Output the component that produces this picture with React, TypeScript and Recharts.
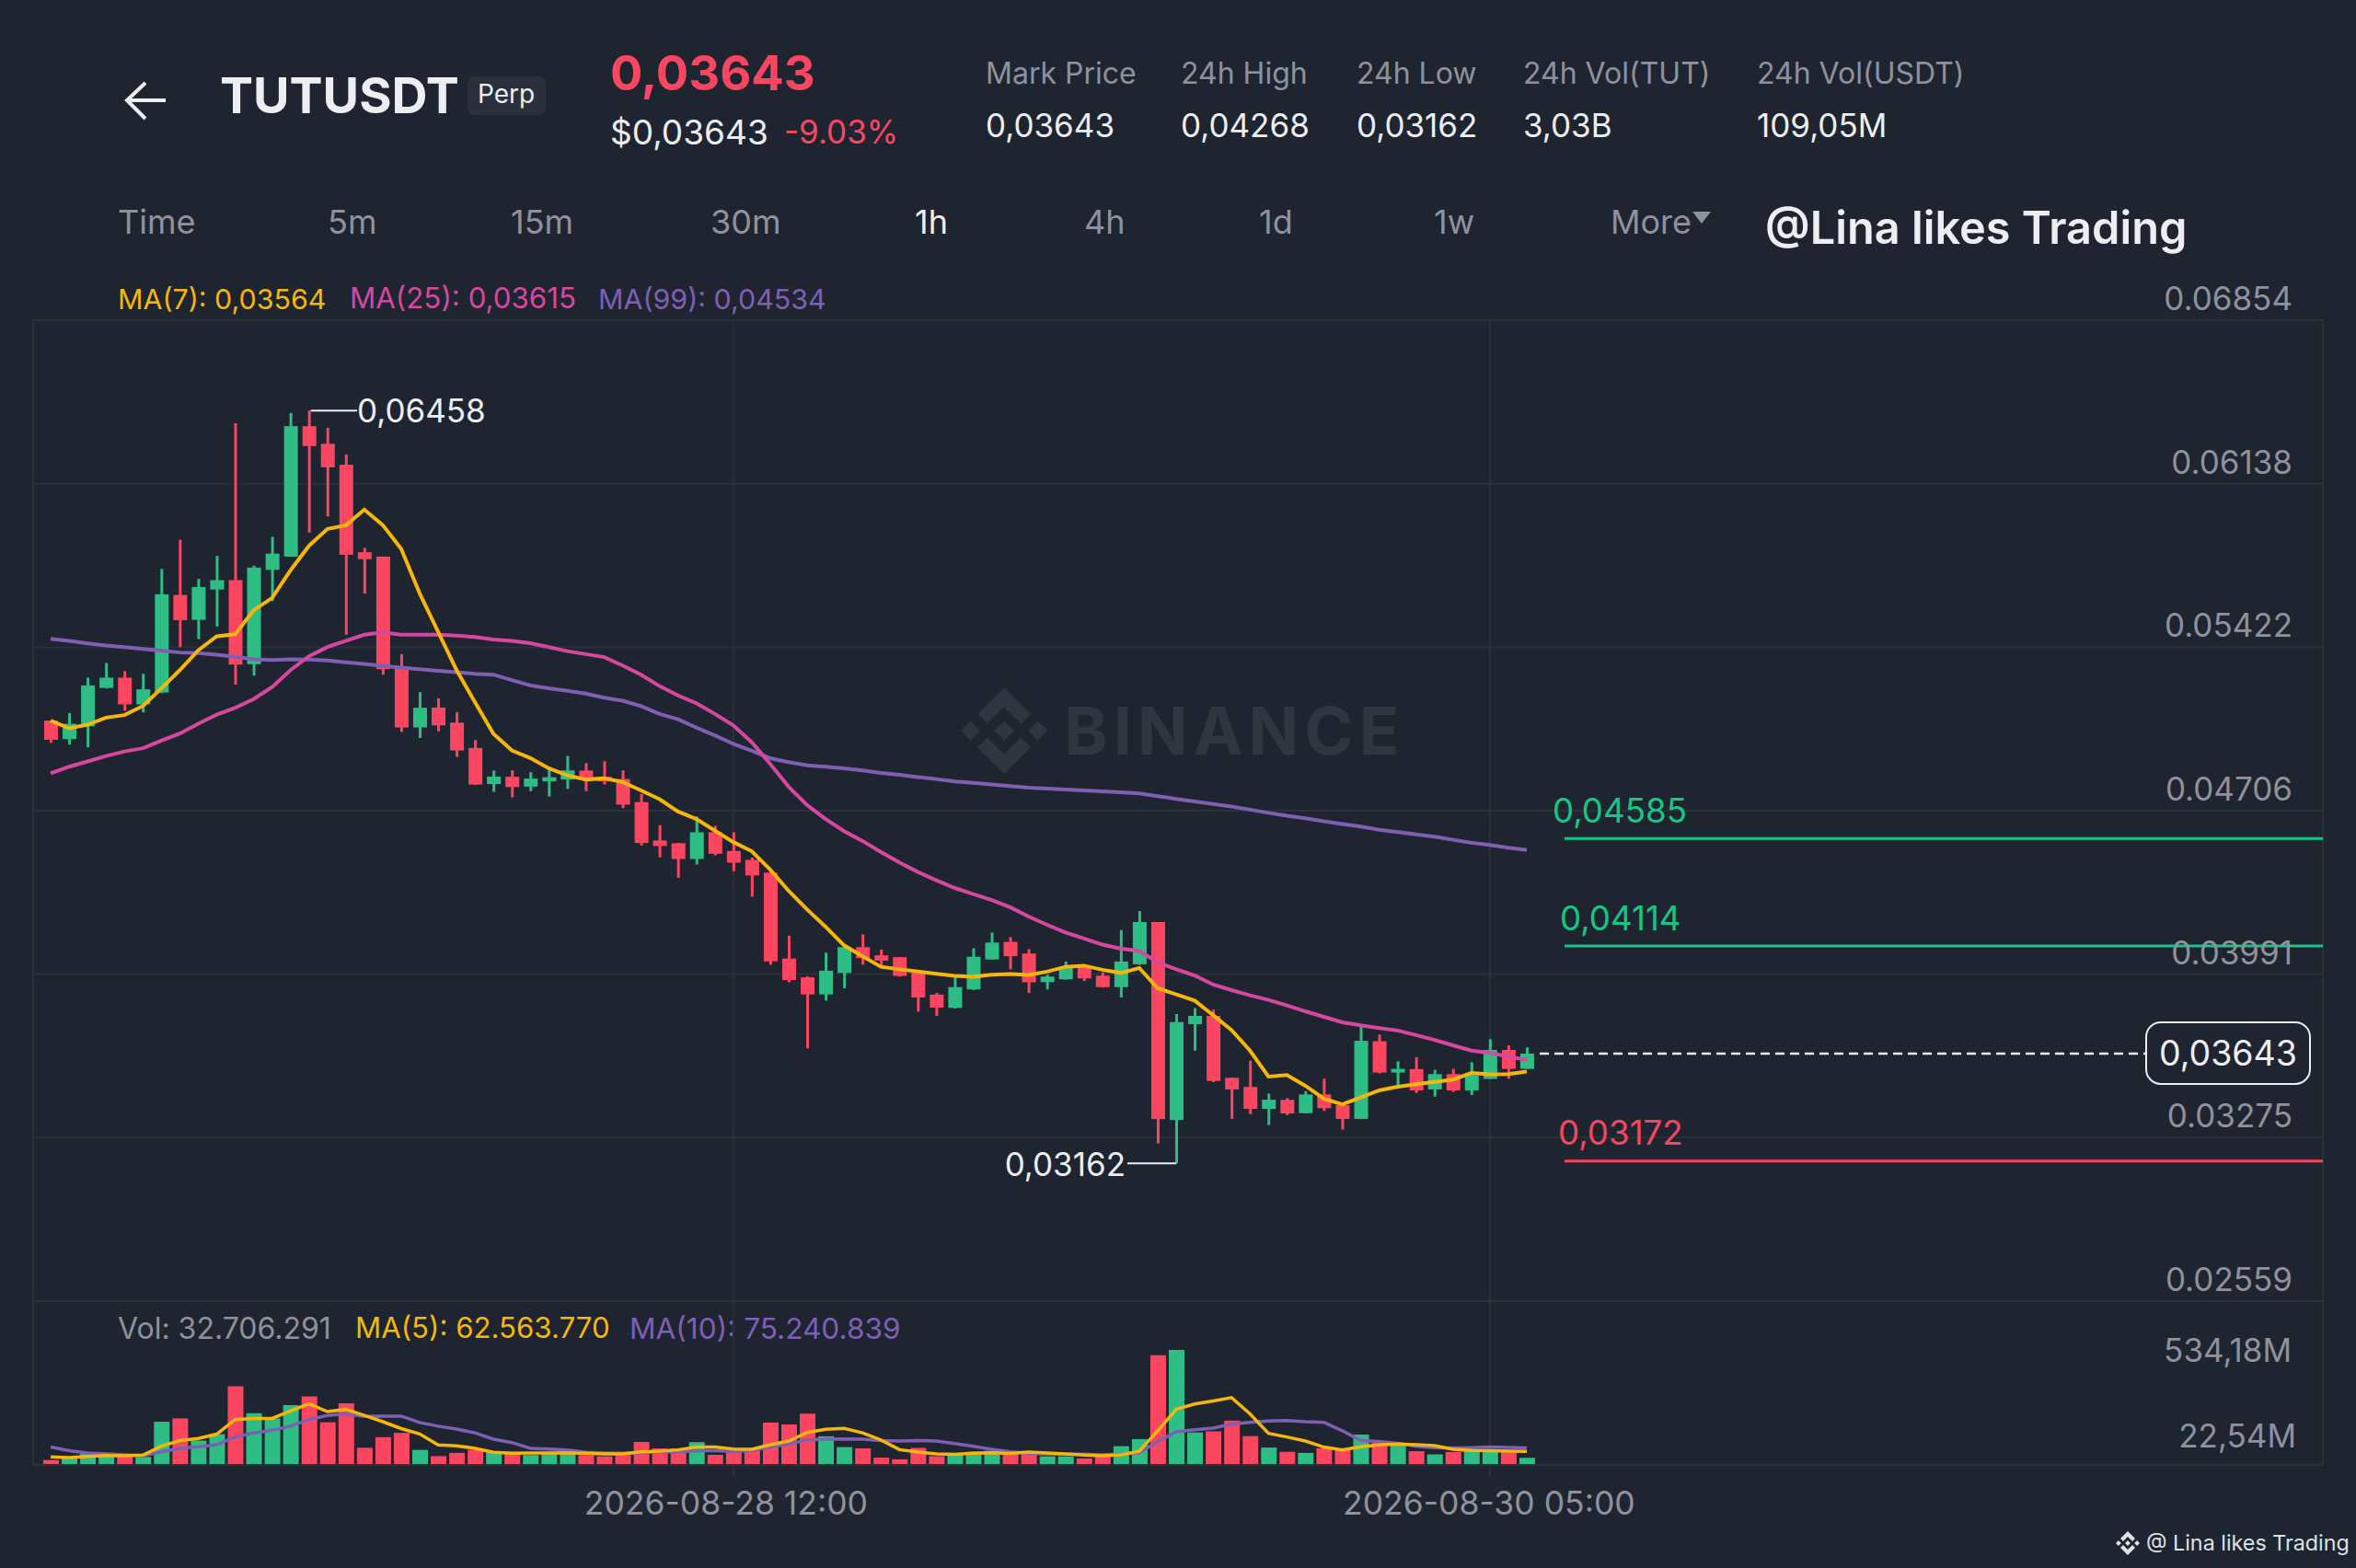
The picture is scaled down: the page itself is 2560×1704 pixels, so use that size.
import { Bar, CartesianGrid, Cell, ComposedChart, Line, ReferenceDot, ReferenceLine, XAxis, YAxis } from "recharts";

const BG = "#1e2530";
const GRID = "#2a313b";
const UP = "#2ebd85";
const DOWN = "#fb4661";
const MA_YELLOW = "#f6b60c";
const MA_PINK = "#d6489f";
const MA_PURPLE = "#7e5fb4";
const GREY = "#8f929c";
const WHITE = "#eceef1";
const FONT = "Inter, sans-serif";

// prices, one entry per hourly candle
const opens = [
  0.05101, 0.0502, 0.05076, 0.05244, 0.05289, 0.05172, 0.05224, 0.05651, 0.05542, 0.05675, 0.05716, 0.05348,
  0.05761, 0.05819, 0.0639, 0.06313, 0.06221, 0.05838, 0.05819, 0.05329, 0.05071, 0.05158, 0.05092, 0.04981,
  0.04823, 0.04855, 0.04812, 0.04835, 0.04843, 0.04882, 0.04855, 0.04845, 0.04744, 0.04576, 0.04564, 0.04495,
  0.04612, 0.0453, 0.04491, 0.04435, 0.04059, 0.03977, 0.03902, 0.03996, 0.04109, 0.04073, 0.04065, 0.04002,
  0.03901, 0.03843, 0.03924, 0.04055, 0.04132, 0.04081, 0.03956, 0.03968, 0.04023, 0.03984, 0.03934, 0.04034,
  0.04219, 0.03352, 0.03772, 0.03808, 0.03537, 0.03497, 0.03401, 0.0344, 0.03382, 0.03464, 0.03417, 0.03357,
  0.03697, 0.0356, 0.03575, 0.03486, 0.03553, 0.03482, 0.03532, 0.03659, 0.03576,
];
const highs = [
  0.05101, 0.05134, 0.05289, 0.05353, 0.05318, 0.05306, 0.05765, 0.05893, 0.05722, 0.05822, 0.06403, 0.05779,
  0.05906, 0.06448, 0.06458, 0.06383, 0.06266, 0.05857, 0.05819, 0.05392, 0.05225, 0.05199, 0.05138, 0.05016,
  0.04882, 0.04883, 0.04875, 0.04892, 0.04946, 0.04915, 0.04923, 0.04883, 0.0478, 0.04643, 0.04565, 0.04681,
  0.0464, 0.04612, 0.04501, 0.04441, 0.04159, 0.03981, 0.04085, 0.04113, 0.04165, 0.04098, 0.04066, 0.04006,
  0.03908, 0.03979, 0.04104, 0.04173, 0.04153, 0.041, 0.03988, 0.04046, 0.04032, 0.03999, 0.04184, 0.04267,
  0.04219, 0.03816, 0.03842, 0.03835, 0.03538, 0.03612, 0.03468, 0.03448, 0.03478, 0.03533, 0.03428, 0.0376,
  0.03726, 0.03609, 0.03627, 0.03572, 0.03576, 0.03605, 0.03706, 0.03679, 0.0367,
];
const lows = [
  0.05004, 0.04996, 0.04984, 0.05242, 0.05144, 0.05137, 0.05221, 0.05423, 0.05458, 0.05513, 0.05258, 0.05298,
  0.05624, 0.05819, 0.05924, 0.05995, 0.05477, 0.05657, 0.05302, 0.05051, 0.05025, 0.05054, 0.04942, 0.04819,
  0.04789, 0.04765, 0.04792, 0.04769, 0.04802, 0.04792, 0.04821, 0.04718, 0.04554, 0.04502, 0.04412, 0.04471,
  0.04511, 0.04441, 0.0433, 0.04032, 0.03955, 0.03666, 0.03875, 0.03929, 0.04032, 0.04028, 0.0398, 0.03827,
  0.03808, 0.0384, 0.03921, 0.04055, 0.04012, 0.03908, 0.03924, 0.03967, 0.03961, 0.03932, 0.03889, 0.04031,
  0.0325, 0.03162, 0.03656, 0.03518, 0.03357, 0.03378, 0.0333, 0.03373, 0.03381, 0.03392, 0.03311, 0.03356,
  0.03556, 0.03498, 0.03471, 0.03455, 0.03475, 0.03462, 0.03532, 0.03533, 0.03576,
];
const closes = [
  0.05017, 0.05087, 0.05255, 0.05289, 0.05172, 0.05238, 0.05654, 0.05541, 0.05686, 0.05716, 0.05346, 0.05771,
  0.05832, 0.0639, 0.06303, 0.0621, 0.05827, 0.05808, 0.05326, 0.05071, 0.05157, 0.0508, 0.0497, 0.04821,
  0.04856, 0.0481, 0.04847, 0.04853, 0.04883, 0.04844, 0.04835, 0.04733, 0.04565, 0.04552, 0.04495, 0.04612,
  0.04518, 0.04479, 0.04423, 0.04047, 0.03965, 0.03902, 0.04006, 0.04109, 0.04061, 0.0405, 0.03983, 0.03889,
  0.03844, 0.03934, 0.04067, 0.04129, 0.0407, 0.03955, 0.0398, 0.04019, 0.03972, 0.03934, 0.04046, 0.04219,
  0.03356, 0.03781, 0.03808, 0.03523, 0.03486, 0.03401, 0.03441, 0.03381, 0.03464, 0.03404, 0.03357, 0.03699,
  0.0356, 0.03576, 0.03482, 0.03553, 0.03482, 0.03549, 0.03659, 0.03576, 0.03643,
];
const ma7 = [
  0.05101, 0.05067, 0.05083, 0.05114, 0.05125, 0.05165, 0.05242, 0.05322, 0.05409, 0.0547, 0.05479, 0.05584,
  0.05638, 0.05759, 0.05866, 0.0594, 0.05956, 0.06025, 0.05957, 0.05853, 0.05658, 0.0549, 0.05322, 0.05181,
  0.05043, 0.0497, 0.04937, 0.04892, 0.04861, 0.04843, 0.04848, 0.04832, 0.04795, 0.04757, 0.04703, 0.0467,
  0.04619, 0.04569, 0.04529, 0.04448, 0.04355, 0.04274, 0.04198, 0.04117, 0.04069, 0.04023, 0.04012, 0.04002,
  0.03992, 0.03983, 0.03979, 0.03988, 0.03991, 0.03987, 0.04002, 0.04023, 0.04028, 0.0401, 0.03996, 0.04018,
  0.03929, 0.03902, 0.03875, 0.03811, 0.03746, 0.03656, 0.03542, 0.03549, 0.03502, 0.03446, 0.03421, 0.03451,
  0.03482, 0.03498, 0.03509, 0.03519, 0.03529, 0.03558, 0.03552, 0.03553, 0.03564,
];
const ma25 = [
  0.0487, 0.04899, 0.04922, 0.04946, 0.04966, 0.0498, 0.05013, 0.05044, 0.05087, 0.05127, 0.05157, 0.05195,
  0.05248, 0.05322, 0.05383, 0.05423, 0.0545, 0.05477, 0.05487, 0.05477, 0.05477, 0.05477, 0.05473, 0.05467,
  0.05456, 0.0545, 0.0544, 0.05423, 0.05405, 0.05392, 0.05379, 0.05342, 0.05302, 0.05252, 0.05211, 0.05177,
  0.0513, 0.0508, 0.05006, 0.04911, 0.04811, 0.04731, 0.0467, 0.04617, 0.04574, 0.04525, 0.0448, 0.04438,
  0.04402, 0.04368, 0.04341, 0.04315, 0.04284, 0.04243, 0.04207, 0.04173, 0.04147, 0.0412, 0.04102, 0.04093,
  0.04042, 0.04012, 0.03985, 0.03945, 0.03921, 0.03898, 0.03878, 0.03854, 0.03828, 0.03804, 0.0378, 0.03767,
  0.03755, 0.03744, 0.03724, 0.03703, 0.03679, 0.03656, 0.03646, 0.0363, 0.03615,
];
const ma99 = [
  0.05459, 0.0545, 0.05439, 0.0543, 0.05423, 0.05415, 0.05408, 0.05399, 0.05396, 0.05389, 0.0538, 0.05369,
  0.05366, 0.05369, 0.05368, 0.05364, 0.05356, 0.05349, 0.0534, 0.05333, 0.05326, 0.05319, 0.05313, 0.05306,
  0.05302, 0.05278, 0.05255, 0.05242, 0.05231, 0.05219, 0.05201, 0.05188, 0.05164, 0.0513, 0.05107, 0.0507,
  0.05036, 0.04999, 0.04969, 0.04936, 0.04919, 0.04905, 0.04899, 0.04892, 0.04883, 0.04872, 0.04864, 0.04854,
  0.04845, 0.04834, 0.04828, 0.04821, 0.04814, 0.04807, 0.04803, 0.04799, 0.04795, 0.04791, 0.04787, 0.04782,
  0.0477, 0.04758, 0.04747, 0.04736, 0.04725, 0.04711, 0.04697, 0.04684, 0.04673, 0.0466, 0.04648, 0.04637,
  0.04623, 0.04613, 0.04603, 0.04593, 0.04579, 0.04566, 0.04556, 0.04544, 0.04534,
];
// volumes in millions
const volumes = [
  23, 34, 59, 56, 41, 37, 201, 216, 113, 143, 366, 240, 216, 278, 318, 198, 286, 80, 129, 149, 70, 41, 56, 70, 59, 56,
  46, 54, 70, 46, 40, 46, 107, 77, 77, 106, 47, 61, 66, 197, 188, 238, 133, 83, 77, 34, 26, 79, 41, 56, 61, 66, 54, 60,
  40, 40, 30, 43, 87, 120, 510, 534, 151, 156, 206, 134, 81, 61, 56, 77, 70, 141, 104, 91, 64, 49, 60, 66, 66, 66, 33,
];
const volMa5 = [
  37, 34, 40, 44, 43, 46, 87, 113, 123, 143, 211, 216, 216, 251, 284, 248, 258, 230, 201, 169, 144, 93, 89, 77, 59, 54,
  56, 56, 56, 54, 51, 51, 61, 64, 70, 83, 83, 74, 73, 94, 111, 151, 166, 170, 149, 116, 71, 60, 51, 49, 54, 57, 53, 60,
  56, 51, 46, 43, 47, 63, 159, 258, 283, 297, 313, 237, 147, 130, 111, 83, 70, 84, 93, 97, 94, 90, 73, 67, 66, 64, 63,
];
const volMa10 = [
  83, 66, 56, 51, 47, 43, 61, 77, 84, 94, 130, 149, 161, 180, 211, 230, 238, 226, 227, 227, 197, 180, 167, 149, 120,
  104, 77, 74, 70, 59, 56, 54, 57, 60, 61, 66, 66, 63, 66, 83, 97, 116, 120, 121, 120, 113, 111, 113, 111, 99, 87, 73,
  61, 54, 51, 50, 50, 47, 50, 57, 109, 154, 164, 171, 190, 198, 204, 206, 201, 198, 159, 113, 109, 101, 87, 80, 79, 80,
  83, 81, 79,
];

const priceTicks = [0.06854, 0.06138, 0.05422, 0.04706, 0.03991, 0.03275, 0.02559];
const volumeTicks = [534.18, 22.54];
const timeTickIndexes = [37, 78];
const targetPrices = [0.04585, 0.04114, 0.03172];
const targetColors = ["#16c784", "#16c784", "#f6465d"];
const targetLabelX = [1687, 1695, 1693];

const pad = (n: number) => String(n).padStart(2, "0");
const times = opens.map((_, i) => {
  const d = new Date(Date.UTC(2026, 7, 26, 23 + i));
  return `${d.getUTCFullYear()}-${pad(d.getUTCMonth() + 1)}-${pad(d.getUTCDate())} ${pad(d.getUTCHours())}:00`;
});

const data = times.map((time, i) => ({
  time,
  open: opens[i],
  high: highs[i],
  low: lows[i],
  close: closes[i],
  ma7: ma7[i],
  ma25: ma25[i],
  ma99: ma99[i],
  volume: volumes[i],
  volMa5: volMa5[i],
  volMa10: volMa10[i],
}));

const comma = (v: number) => v.toFixed(5).replace(".", ",");
const lastClose = closes[closes.length - 1];
const xTicks = timeTickIndexes.map((i) => times[i]);

function Txt({ x, y, size, color, weight = 400, end, spacing, children }: any) {
  return (
    <div
      style={{
        position: "absolute",
        top: y,
        ...(end ? { right: 2560 - x } : { left: x }),
        transform: "translateY(-50%)",
        fontSize: size,
        lineHeight: 1,
        color,
        fontWeight: weight,
        whiteSpace: "nowrap",
        letterSpacing: spacing,
      }}
    >
      {children}
    </div>
  );
}

function BinanceMark({ cx, cy, r, color }: any) {
  return (
    <svg style={{ position: "absolute", left: cx - r, top: cy - r }} width={r * 2} height={r * 2} viewBox="0 0 126.61 126.61">
      <path
        fill={color}
        d="M38.73 53.2l24.59-24.58 24.6 24.6 14.3-14.31L63.32 0 24.42 38.9zM0 63.31l14.3-14.31 14.31 14.31-14.31 14.3zM38.73 73.41l24.59 24.59 24.6-24.6 14.31 14.29-38.9 38.91-38.91-38.88-.02-.02zM98.28 63.31l14.3-14.31 14.31 14.3-14.31 14.32zM77.83 63.3L63.32 48.78 52.59 59.51l-1.24 1.23-2.54 2.54 14.51 14.5 14.51-14.47z"
      />
    </svg>
  );
}

function Candle({ x, y, width, height, payload }: any) {
  const { open, high, low, close } = payload;
  const color = close >= open ? UP : DOWN;
  const perUnit = height / (high - low);
  const top = y + (high - Math.max(open, close)) * perUnit;
  const bodyH = Math.max(Math.abs(close - open) * perUnit, 2);
  const mid = x + width / 2;
  return (
    <g>
      <rect x={mid - 1.5} y={y} width={3} height={height} fill={color} />
      <rect x={x} y={top} width={width} height={bodyH} fill={color} />
    </g>
  );
}

function PriceTick({ y, payload }: any) {
  return (
    <text x={2491} y={y - 24} textAnchor="end" dominantBaseline="central" fontSize={35} fill={GREY} fontFamily={FONT}>
      {payload.value.toFixed(5)}
    </text>
  );
}

function VolumeTick({ y, index, payload }: any) {
  const text = `${payload.value.toFixed(2).replace(".", ",")}M`;
  return (
    <text
      x={index === 0 ? 2490 : 2495}
      y={index === 0 ? y : y - 27}
      textAnchor="end"
      dominantBaseline="central"
      fontSize={35}
      fill={GREY}
      fontFamily={FONT}
    >
      {text}
    </text>
  );
}

function TimeTick({ x, index, payload }: any) {
  return (
    <text x={x + (index === 0 ? -8 : -1)} y={1633 - 1404} textAnchor="middle" dominantBaseline="central" fontSize={35.5} fill={GREY} fontFamily={FONT}>
      {payload.value}
    </text>
  );
}

const NoTick = () => <g />;

function HighNote({ cx, cy }: any) {
  return (
    <g>
      <line x1={cx + 2} x2={388} y1={cy} y2={cy} stroke={WHITE} strokeWidth={2} />
      <text x={388} y={cy} dominantBaseline="central" fontSize={35} fill={WHITE} fontFamily={FONT}>
        {comma(highs[14])}
      </text>
    </g>
  );
}

function LowNote({ cx, cy }: any) {
  return (
    <g>
      <line x1={cx} x2={1225} y1={cy} y2={cy} stroke={WHITE} strokeWidth={2} />
      <text x={1223} y={cy + 1} textAnchor="end" dominantBaseline="central" fontSize={35} fill={WHITE} fontFamily={FONT}>
        {comma(lows[61])}
      </text>
    </g>
  );
}

function LastPriceLine({ y1 }: any) {
  return (
    <g>
      <line x1={1673} x2={2332} y1={y1} y2={y1} stroke={WHITE} strokeWidth={2.5} strokeDasharray="10 6" />
      <rect x={2332} y={y1 - 34} width={178} height={67} rx={16} fill={BG} stroke={WHITE} strokeWidth={2} />
      <text x={2421} y={y1} textAnchor="middle" dominantBaseline="central" fontSize={37.5} fill={WHITE} fontFamily={FONT}>
        {comma(lastClose)}
      </text>
    </g>
  );
}

const targetLine = (i: number) => ({ y1 }: any) => (
  <g>
    <line x1={1700} x2={2524} y1={y1} y2={y1} stroke={targetColors[i]} strokeWidth={3} />
    <text x={targetLabelX[i]} y={y1 - 31} dominantBaseline="central" fontSize={36.7} fill={targetColors[i]} fontFamily={FONT}>
      {comma(targetPrices[i])}
    </text>
  </g>
);

const tabs = [
  ["Time", 128],
  ["5m", 356],
  ["15m", 555],
  ["30m", 772],
  ["1h", 994],
  ["4h", 1178],
  ["1d", 1368],
  ["1w", 1558],
  ["More", 1750],
] as const;

const stats = [
  ["Mark Price", "0,03643", 1071],
  ["24h High", "0,04268", 1283],
  ["24h Low", "0,03162", 1474],
  ["24h Vol(TUT)", "3,03B", 1655],
  ["24h Vol(USDT)", "109,05M", 1909],
] as const;

export default function App() {
  return (
    <div style={{ position: "absolute", left: 0, top: 0, width: 2560, height: 1704, background: BG, fontFamily: FONT, overflow: "hidden" }}>
      <svg style={{ position: "absolute", left: 130, top: 85 }} width={56} height={50}>
        <path d="M50 24 H8 M28 5 L8 24 L28 44" fill="none" stroke={WHITE} strokeWidth={4} />
      </svg>
      <Txt x={239} y={104} size={54} color={WHITE} weight={700}>TUTUSDT</Txt>
      <div style={{ position: "absolute", left: 508, top: 83, width: 85, height: 42, borderRadius: 8, background: "#2a313c" }} />
      <Txt x={519} y={102} size={28} color={WHITE}>Perp</Txt>
      <Txt x={663} y={79} size={52.5} color={DOWN} weight={700}>0,03643</Txt>
      <Txt x={663} y={143} size={37} color={WHITE}>$0,03643</Txt>
      <Txt x={852} y={143} size={35} color={DOWN}>-9.03%</Txt>
      {stats.map(([label, value, x]) => (
        <div key={label}>
          <Txt x={x} y={80} size={32} color={GREY}>{label}</Txt>
          <Txt x={x} y={136} size={35} color={WHITE}>{value}</Txt>
        </div>
      ))}
      {tabs.map(([label, x]) => (
        <Txt key={label} x={x} y={241} size={36} color={label === "1h" ? WHITE : GREY}>{label}</Txt>
      ))}
      <svg style={{ position: "absolute", left: 1839, top: 230 }} width={22} height={15}>
        <path d="M0 0 H20 L10 13 Z" fill={GREY} />
      </svg>
      <Txt x={1918} y={248} size={48.7} color={WHITE} weight={600}>@Lina likes Trading</Txt>

      <Txt x={128} y={325} size={30.4} color={MA_YELLOW}>MA(7): 0,03564</Txt>
      <Txt x={380} y={325} size={31.3} color={MA_PINK}>MA(25): 0,03615</Txt>
      <Txt x={650} y={325} size={30.4} color={MA_PURPLE}>MA(99): 0,04534</Txt>
      <Txt x={128} y={1444} size={32} color={GREY}>Vol: 32.706.291</Txt>
      <Txt x={386} y={1444} size={31.2} color={MA_YELLOW}>MA(5): 62.563.770</Txt>
      <Txt x={684} y={1444} size={31.6} color={MA_PURPLE}>MA(10): 75.240.839</Txt>

      <BinanceMark cx={1091} cy={794} r={47} color="#30363f" />
      <Txt x={1156} y={794} size={72} color="#30363f" weight={700} spacing={6}>BINANCE</Txt>

      <div style={{ position: "absolute", left: 35, top: 348, width: 2, height: 1244, background: GRID }} />
      <div style={{ position: "absolute", left: 2523, top: 348, width: 2, height: 1198, background: GRID }} />

      <div style={{ position: "absolute", left: 0, top: 288 }}>
        <ComposedChart width={2560} height={1152} data={data} margin={{ top: 60, right: 0, bottom: 26, left: 36 }}>
          <CartesianGrid stroke={GRID} strokeWidth={2} />
          <XAxis dataKey="time" ticks={xTicks} interval={0} height={0} tick={<NoTick />} tickLine={false} axisLine={false} padding={{ left: 9, right: 855 }} />
          <YAxis
            orientation="right"
            width={36}
            domain={[priceTicks[6], priceTicks[0]]}
            ticks={priceTicks}
            interval={0}
            tick={<PriceTick />}
            tickLine={false}
            axisLine={false}
          />
          <Bar dataKey={(d: any) => [d.low, d.high]} barSize={15} shape={<Candle />} isAnimationActive={false} />
          <Line dataKey="ma99" stroke={MA_PURPLE} strokeWidth={4} dot={false} isAnimationActive={false} />
          <Line dataKey="ma25" stroke={MA_PINK} strokeWidth={4} dot={false} isAnimationActive={false} />
          <Line dataKey="ma7" stroke={MA_YELLOW} strokeWidth={4} dot={false} isAnimationActive={false} />
          {targetPrices.map((p, i) => (
            <ReferenceLine key={p} y={p} shape={targetLine(i)} />
          ))}
          <ReferenceLine y={lastClose} shape={<LastPriceLine />} />
          <ReferenceDot x={times[14]} y={highs[14]} shape={<HighNote />} />
          <ReferenceDot x={times[61]} y={lows[61]} shape={<LowNote />} />
        </ComposedChart>
      </div>

      <div style={{ position: "absolute", left: 0, top: 1404 }}>
        <ComposedChart width={2560} height={300} data={data} margin={{ top: 10, right: 0, bottom: 52, left: 36 }}>
          <CartesianGrid stroke={GRID} strokeWidth={2} horizontal={false} />
          <XAxis
            dataKey="time"
            ticks={xTicks}
            interval={0}
            height={60}
            tick={<TimeTick />}
            tickSize={12}
            tickLine={{ stroke: GRID, strokeWidth: 2 }}
            axisLine={{ stroke: GRID, strokeWidth: 2 }}
            padding={{ left: 9, right: 855 }}
          />
          <YAxis orientation="right" width={36} domain={[0, 761]} ticks={volumeTicks} interval={0} tick={<VolumeTick />} tickLine={false} axisLine={false} />
          <Bar dataKey="volume" barSize={17} isAnimationActive={false}>
            {data.map((d) => (
              <Cell key={d.time} fill={d.close >= d.open ? UP : DOWN} />
            ))}
          </Bar>
          <Line dataKey="volMa10" stroke={MA_PURPLE} strokeWidth={3.5} dot={false} isAnimationActive={false} />
          <Line dataKey="volMa5" stroke={MA_YELLOW} strokeWidth={3.5} dot={false} isAnimationActive={false} />
        </ComposedChart>
      </div>

      <BinanceMark cx={2312} cy={1677} r={13} color="#dfe1e5" />
      <Txt x={2332} y={1677} size={23.3} color="#dfe1e5">@ Lina likes Trading</Txt>
    </div>
  );
}
